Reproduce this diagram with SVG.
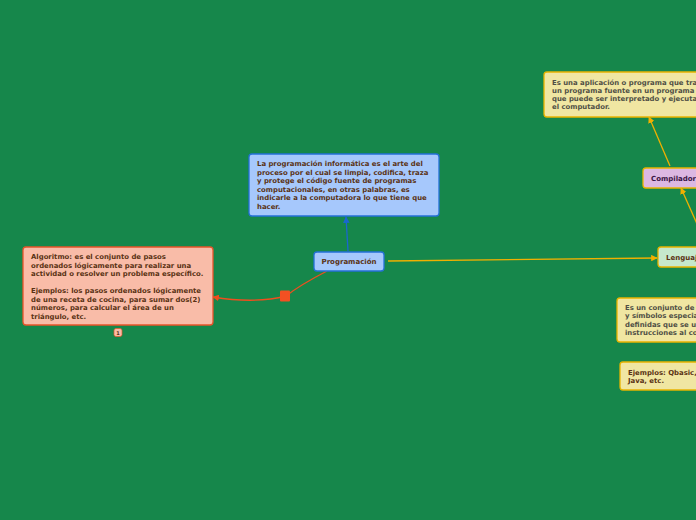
<svg xmlns="http://www.w3.org/2000/svg" width="696" height="520" viewBox="0 0 696 520">
<defs>
<style>
text{font-family:"DejaVu Sans","Verdana",sans-serif;font-weight:bold;font-size:6.9px}
.brown{fill:#5a3214}
.grey{fill:#4f4f45}
.purple{fill:#3b1646}
.node{stroke-width:1.3}
.blue{fill:#a6c8fc;stroke:#2470d8}
.salmon{fill:#f9bca8;stroke:#e8542a}
.yellow{fill:#f0e6a2;stroke:#e8b400}
.green{fill:#c6e8cc;stroke:#e8b400}
.lilac{fill:#dcb8e2;stroke:#e8b400}
.conn{fill:none;stroke-width:1.3}
</style>
<marker id="aBlue" viewBox="0 0 10 10" refX="9" refY="5" markerWidth="5" markerHeight="5" orient="auto"><path d="M0,0L10,5L0,10z" fill="#1a66d0"/></marker>
<marker id="aRed" viewBox="0 0 10 10" refX="9" refY="5" markerWidth="5" markerHeight="5" orient="auto"><path d="M0,0L10,5L0,10z" fill="#f04e1e"/></marker>
<marker id="aAmb" viewBox="0 0 10 10" refX="9" refY="5" markerWidth="5" markerHeight="5" orient="auto"><path d="M0,0L10,5L0,10z" fill="#f0b000"/></marker>
</defs>
<rect width="696" height="520" fill="#16874b"/>
<g id="connectors">
<path class="conn" d="M348,251 L346,217" stroke="#1a66d0" marker-end="url(#aBlue)"/>
<path class="conn" d="M327,271 Q300,285 286,296 Q255,304 213,297" stroke="#f04e1e" marker-end="url(#aRed)"/>
<rect x="280" y="290.5" width="10" height="11" rx="1" fill="#f25022"/>
<path class="conn" d="M388,261 L657,258" stroke="#f0b000" marker-end="url(#aAmb)"/>
<path class="conn" d="M706,244 L681,188" stroke="#f0b000" marker-end="url(#aAmb)"/>
<path class="conn" d="M670,166 L649,117" stroke="#f0b000" marker-end="url(#aAmb)"/>
</g>
<g id="programacion">
<rect class="node blue" x="314" y="252" width="70" height="19" rx="3"/>
<text class="brown" x="349" y="264" text-anchor="middle" style="font-size:7px">Programación</text>
</g>
<g id="definicion">
<rect class="node blue" x="249" y="154" width="190" height="62" rx="3"/>
<text class="brown"><tspan x="257" y="166">La programación informática es el arte del</tspan><tspan x="257" y="174.5">proceso por el cual se limpia, codifica, traza</tspan><tspan x="257" y="183">y protege el código fuente de programas</tspan><tspan x="257" y="191.5">computacionales, en otras palabras, es</tspan><tspan x="257" y="200">indicarle a la computadora lo que tiene que</tspan><tspan x="257" y="208.5">hacer.</tspan></text>
</g>
<g id="algoritmo">
<rect class="node salmon" x="23" y="247" width="190" height="78" rx="3"/>
<text class="brown"><tspan x="31" y="259">Algoritmo: es el conjunto de pasos</tspan><tspan x="31" y="267.5">ordenados lógicamente para realizar una</tspan><tspan x="31" y="276">actividad o resolver un problema específico.</tspan><tspan x="31" y="293">Ejemplos: los pasos ordenados lógicamente</tspan><tspan x="31" y="301.5">de una receta de cocina, para sumar dos(2)</tspan><tspan x="31" y="310">números, para calcular el área de un</tspan><tspan x="31" y="318.5">triángulo, etc.</tspan></text>
<rect x="114" y="328.5" width="8" height="8" rx="2" fill="#f9bca8" stroke="#e8542a" stroke-width="0.7"/>
<text class="brown" x="118" y="334.5" text-anchor="middle" style="font-size:5px">1</text>
</g>
<g id="lenguaje">
<rect class="node green" x="658" y="247" width="60" height="20" rx="3"/>
<text class="brown" x="666" y="260" style="font-size:7px">Lenguaj</text>
</g>
<g id="compilador">
<rect class="node lilac" x="643" y="168" width="70" height="20" rx="3"/>
<text class="purple" x="651" y="181" style="font-size:7px">Compilador</text>
</g>
<g id="compilador-def">
<rect class="node yellow" x="544" y="72" width="200" height="45" rx="3"/>
<text class="grey"><tspan x="552" y="85">Es una aplicación o programa que tra</tspan><tspan x="552" y="93">un programa fuente en un programa</tspan><tspan x="552" y="101">que puede ser interpretado y ejecuta</tspan><tspan x="552" y="109">el computador.</tspan></text>
</g>
<g id="lenguaje-def">
<rect class="node yellow" x="617" y="298" width="100" height="44" rx="3"/>
<text class="grey"><tspan x="625" y="310">Es un conjunto de</tspan><tspan x="625" y="318">y símbolos especia</tspan><tspan x="625" y="326.5">definidas que se u</tspan><tspan x="625" y="335">instrucciones al co</tspan></text>
</g>
<g id="ejemplos">
<rect class="node yellow" x="620" y="362" width="90" height="28" rx="3"/>
<text class="brown"><tspan x="628" y="375">Ejemplos: Qbasic,</tspan><tspan x="628" y="383">Java, etc.</tspan></text>
</g>
</svg>
